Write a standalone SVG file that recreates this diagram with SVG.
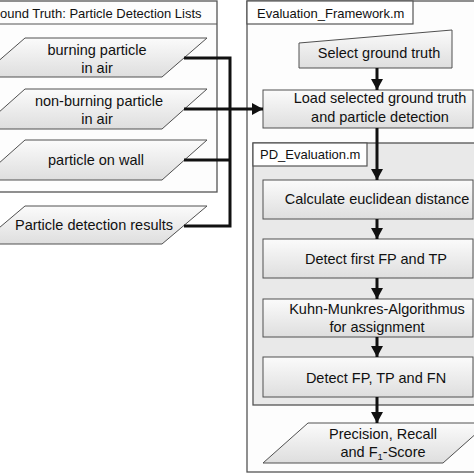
<svg xmlns="http://www.w3.org/2000/svg" width="474" height="474" viewBox="0 0 474 474">
<defs>
<linearGradient id="g" x1="0" y1="0" x2="0" y2="1">
<stop offset="0" stop-color="#fbfbfb"/>
<stop offset="1" stop-color="#dedede"/>
</linearGradient>
<marker id="ah" markerUnits="userSpaceOnUse" markerWidth="12" markerHeight="12" viewBox="0 0 12 12" refX="11" refY="6" orient="auto">
<path d="M0,0 L11,6 L0,12 Z" fill="#111"/>
</marker>
<style>
text{font-family:"Liberation Sans",Arial,sans-serif;fill:#111}
.t{font-size:14.5px;text-anchor:middle}
.h{font-size:13px}
.grp{fill:#fdfdfd;stroke:#555;stroke-width:1.3}
.tab{fill:#ffffff;stroke:#555;stroke-width:1.2}
.box{fill:url(#g);stroke:#505050;stroke-width:1}
.c{fill:none;stroke:#111;stroke-width:3}
</style>
</defs>
<rect width="474" height="474" fill="#ffffff"/>

<g id="ground-truth-group">
<rect class="grp" x="-3" y="1" width="220" height="191"/>
<line x1="-3" y1="24" x2="217" y2="24" stroke="#555" stroke-width="1.2"/>
<text class="h" x="0" y="17.5">ound Truth: Particle Detection Lists</text>
</g>
<g id="burning">
<polygon class="box" points="25,38 207,38 162,77 -20,77"/>
<text class="t" x="97" y="55">burning particle</text>
<text class="t" x="97" y="73">in air</text>
</g>
<g id="nonburning">
<polygon class="box" points="25,89 207,89 162,129 -20,129"/>
<text class="t" x="99" y="106">non-burning particle</text>
<text class="t" x="97" y="124">in air</text>
</g>
<g id="wall">
<polygon class="box" points="25,140 207,140 162,180 -20,180"/>
<text class="t" x="96" y="165">particle on wall</text>
</g>
<g id="detection">
<polygon class="box" points="25,206 207,206 162,244 -20,244"/>
<text class="t" x="94" y="230">Particle detection results</text>
</g>

<g id="framework-group">
<rect class="grp" x="247" y="1" width="230" height="471" fill="#f8f8f8"/>
<rect class="tab" x="247" y="1" width="166" height="23"/>
<text class="h" x="257" y="17.5">Evaluation_Framework.m</text>
</g>
<g id="select">
<polygon class="box" points="299,43 452,30 452,68 299,68"/>
<text class="t" x="379" y="58">Select ground truth</text>
</g>
<g id="load">
<rect class="box" x="263" y="90" width="210" height="38"/>
<text class="t" x="380" y="103">Load selected ground truth</text>
<text class="t" x="380" y="122">and particle detection</text>
</g>
<g id="pd-group">
<rect x="253" y="143" width="224" height="262" fill="#e9e9e9" stroke="#555" stroke-width="1.3"/>
<rect class="tab" x="253" y="143" width="114" height="23"/>
<text class="h" x="260" y="159">PD_Evaluation.m</text>
</g>
<g id="calc">
<rect class="box" x="263" y="180" width="210" height="39"/>
<text class="t" x="377" y="204">Calculate euclidean distance</text>
</g>
<g id="first">
<rect class="box" x="263" y="239" width="210" height="39"/>
<text class="t" x="376" y="264">Detect first FP and TP</text>
</g>
<g id="kuhn">
<rect class="box" x="263" y="299" width="210" height="38"/>
<text class="t" x="377" y="314">Kuhn-Munkres-Algorithmus</text>
<text class="t" x="377" y="332">for assignment</text>
</g>
<g id="detectfn">
<rect class="box" x="263" y="357" width="210" height="40"/>
<text class="t" x="376" y="383">Detect FP, TP and FN</text>
</g>
<g id="precision">
<polygon class="box" points="308,423 488,423 443,463 263,463"/>
<text class="t" x="383" y="439">Precision, Recall</text>
<text class="t" x="383" y="457">and F<tspan font-size="9.5" dy="3">1</tspan><tspan dy="-3">-Score</tspan></text>
</g>

<g id="connectors">
<path class="c" d="M184,58 H230 V226 H184"/>
<path class="c" d="M184,160 H230"/>
<path class="c" d="M184,109 H263" marker-end="url(#ah)"/>
<path class="c" d="M377,68 V90" marker-end="url(#ah)"/>
<path class="c" d="M377,128 V180" marker-end="url(#ah)"/>
<path class="c" d="M377,219 V239" marker-end="url(#ah)"/>
<path class="c" d="M377,278 V299" marker-end="url(#ah)"/>
<path class="c" d="M377,337 V357" marker-end="url(#ah)"/>
<path class="c" d="M377,397 V423" marker-end="url(#ah)"/>
</g>
</svg>
